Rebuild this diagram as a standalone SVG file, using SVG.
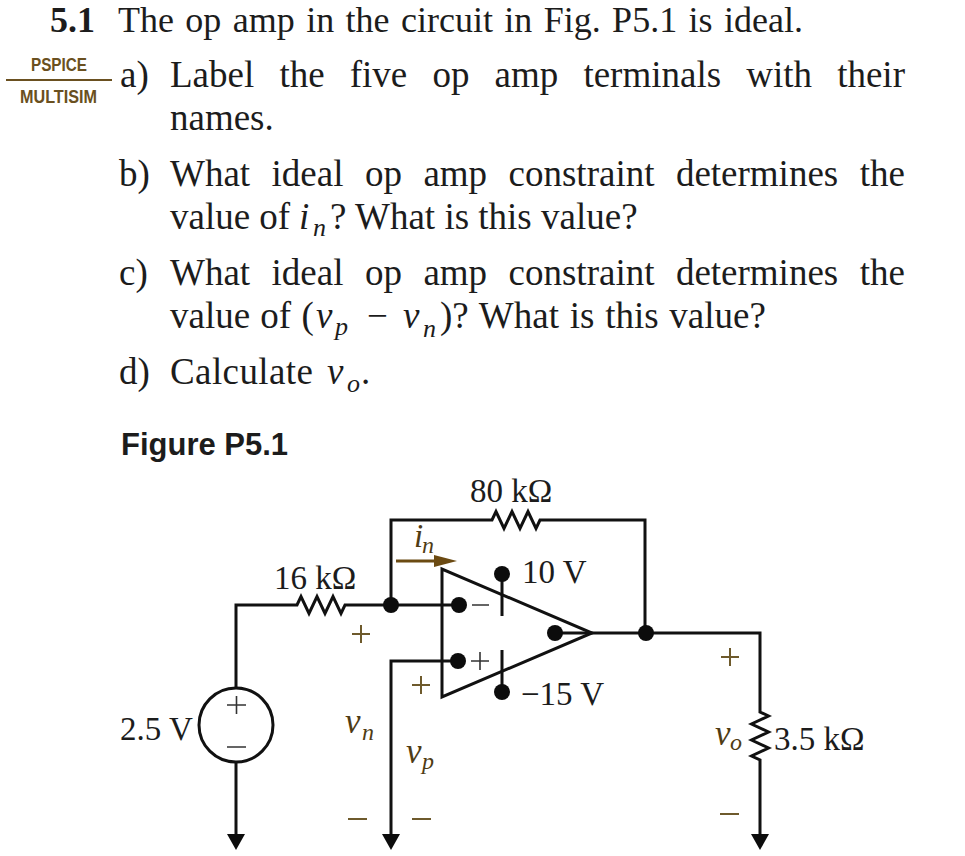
<svg xmlns="http://www.w3.org/2000/svg" width="965" height="856" viewBox="0 0 965 856">
<style>
text{font-family:"Liberation Serif","Times New Roman",serif;font-size:37px;fill:#1c1c1c}
.c{font-size:33px}
.t{font-size:36px}
.s{font-family:"Liberation Sans",Arial,sans-serif;font-weight:bold;fill:#6a5020;font-size:19px}
.v{font-style:italic;fill:#4f3c14;font-size:35px}
.sub{font-style:italic;fill:#4f3c14;font-size:24px}
.tv{font-style:italic;font-size:37px}
.ts{font-style:italic;font-size:26px}
.p{fill:none;stroke:#111;stroke-width:3}
.b{fill:none;stroke:#6e5a2c;stroke-width:2}
.k{fill:none;stroke:#333;stroke-width:1.6}
.d{fill:#0c0c0c}
</style>
<defs>
<marker id="gnd" markerUnits="userSpaceOnUse" markerWidth="18" markerHeight="16" refX="9" refY="1" orient="0" overflow="visible"><path d="M0 0H18L9 16Z" fill="#0c0c0c"/></marker>
</defs>
<rect width="965" height="856" fill="#fff"/>
<g id="problem-text">
<text x="50" y="32" class="t" style="font-weight:bold">5.1</text>
<text x="118" y="32" class="t" word-spacing="2.4">The op amp in the circuit in Fig. P5.1 is ideal.</text>
<text x="31" y="71" class="s" textLength="56" lengthAdjust="spacingAndGlyphs">PSPICE</text>
<line x1="6" y1="80" x2="112" y2="80" stroke="#6a5020" stroke-width="2"/>
<text x="20" y="103" class="s" textLength="77" lengthAdjust="spacingAndGlyphs">MULTISIM</text>
<text x="120" y="87">a)</text>
<text x="170" y="87" word-spacing="15.9">Label the five op amp terminals with their</text>
<text x="170" y="130">names.</text>
<text x="119" y="186">b)</text>
<text x="170" y="186" word-spacing="12.2">What ideal op amp constraint determines the</text>
<text x="170" y="229">value of</text>
<text x="299" y="229" class="tv">i</text>
<text x="313" y="236" class="ts">n</text>
<text x="330" y="229">? What is this value?</text>
<text x="119" y="285">c)</text>
<text x="170" y="285" word-spacing="12.2">What ideal op amp constraint determines the</text>
<text x="170" y="328" word-spacing="1">value of (</text>
<text x="316" y="328" class="tv">v</text>
<text x="335" y="335" class="ts">p</text>
<text x="367" y="328">−</text>
<text x="403" y="328" class="tv">v</text>
<text x="423" y="337" class="ts">n</text>
<text x="440" y="328" word-spacing="1.500">)? What is this value?</text>
<text x="119" y="384">d)</text>
<text x="170" y="384" letter-spacing="0.4">Calculate</text>
<text x="327" y="384" class="tv">v</text>
<text x="347" y="392" class="ts">o</text>
<text x="361" y="384">.</text>
<text x="121" y="455" style="font-family:'Liberation Sans',Arial,sans-serif;font-weight:bold;font-size:31px">Figure P5.1</text>
</g>
<g id="connectors">
<path class="p" d="M236 688V605H297l4-8.500 8 17 8-17 8 17 8-17 8 17 4-8.500H458"/>
<path class="p" d="M391 605V520H492l4-8.500 8 17 8-17 8 17 8-17 8 17 4-8.500H645V633"/>
<path class="p" d="M553 633H760V712l8.500 4-17 8 17 8-17 8 17 8-17 8 8.500 4V835" marker-end="url(#gnd)"/>
<path class="p" d="M236 762V835" marker-end="url(#gnd)"/>
<path class="p" d="M458 661H391V835" marker-end="url(#gnd)"/>
<path class="p" d="M502 574V616M502 692V650"/>
</g>
<g id="op-amp">
<path d="M442 569V697L592 633Z" fill="none" stroke="#111" stroke-width="3" stroke-linejoin="miter"/>
<path class="k" d="M472 605H489M471 661H489M480 652V670"/>
</g>
<g id="source">
<circle cx="236" cy="725" r="37" fill="#fff" stroke="#111" stroke-width="3"/>
<path class="k" d="M227 705H246M236.500 696V714M227 747H246"/>
<text x="120" y="740" class="c">2.5 V</text>
</g>
<g id="junctions">
<circle class="d" cx="391" cy="605" r="8"/>
<circle class="d" cx="646" cy="633" r="8"/>
<circle class="d" cx="459" cy="605" r="8"/>
<circle class="d" cx="458" cy="661" r="8"/>
<circle class="d" cx="555" cy="633" r="8"/>
<circle class="d" cx="502" cy="574" r="8"/>
<circle class="d" cx="502" cy="692" r="8"/>
</g>
<g id="labels">
<text x="470" y="502" class="c">80 kΩ</text>
<text x="274" y="589" class="c">16 kΩ</text>
<text x="522" y="583" class="c">10 V</text>
<text x="521" y="705" class="c">−15 V</text>
<text x="774" y="750" class="c">3.5 kΩ</text>
<text x="414" y="547" class="v" style="font-size:33px">i</text>
<text x="422" y="553" class="sub">n</text>
<path d="M396 561H440" stroke="#6b4a12" stroke-width="3" fill="none"/>
<path d="M434 555L457 561L434 567Z" fill="#6b4a12"/>
<path class="b" d="M352 634H370M361 625V643M412 685H430M421 676V694M721 657H739M730 648V666M348 819H367M412 819H431M720 814H739"/>
<text x="345" y="733" class="v">v</text>
<text x="362" y="740" class="sub">n</text>
<text x="406" y="763" class="v">v</text>
<text x="422" y="769" class="sub">p</text>
<text x="715" y="745" class="v">v</text>
<text x="730" y="750" class="sub">o</text>
</g>
</svg>
